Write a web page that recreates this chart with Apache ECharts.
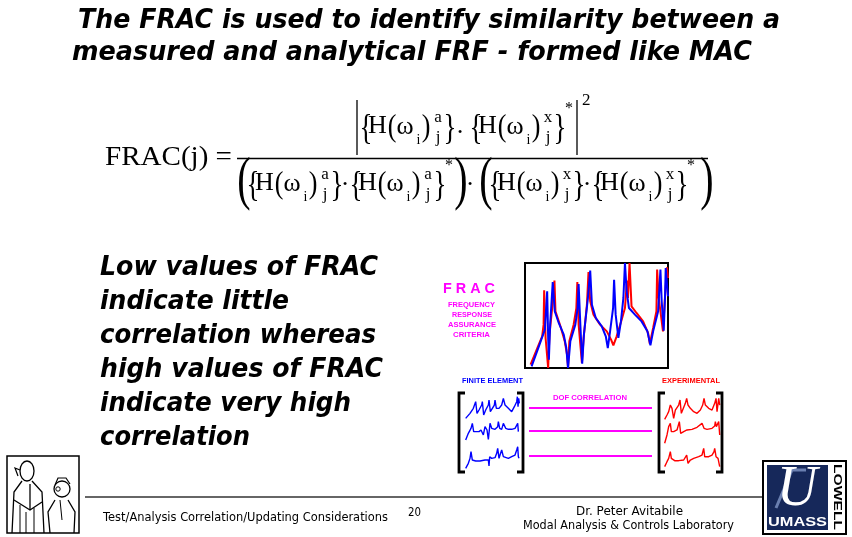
<!DOCTYPE html>
<html><head><meta charset="utf-8">
<script src="https://cdn.jsdelivr.net/npm/echarts@6/dist/echarts.min.js"></script>
<style>html,body{margin:0;padding:0;background:#fff}#c{width:852px;height:537px}</style>
</head><body><div id="c"></div>
<script>
// ---------- data ----------
// main FRF overlay: x = frequency (0-100 of the band), y = log amplitude (0-100)
const measuredFRF = [[3.9,3.2],[8.6,19.0],[12.0,30.2],[13.0,41.3],[13.4,74.0],[14.4,28.6],[16.2,0],[17.1,31.7],[19.0,57.1],[20.6,83.2],[21.3,54.0],[24.8,39.7],[27.8,25.4],[29.4,12.7],[30.1,0],[31.0,25.4],[34.0,41.3],[35.9,57.1],[36.6,81.9],[37.5,41.3],[39.8,4.8],[41.0,28.6],[43.3,60.3],[44.4,91.4],[45.6,63.5],[47.9,50.8],[52.5,41.3],[57.2,34.9],[60.2,27.0],[61.8,21.6],[64.1,30.2],[67.6,46.0],[69.9,57.1],[71.3,83.2],[72.0,66.7],[73.1,100],[74.5,58.7],[78.0,52.4],[82.6,44.4],[86.1,33.3],[87.3,22.9],[89.6,38.1],[91.9,54.0],[92.4,93.7],[93.5,66.7],[96.5,34.9],[97.7,63.5],[99.3,95.9],[100,85.7]];
const analyticalFRF = [[4.6,1.6],[9.7,20.6],[13.9,36.5],[15.5,73.0],[16.2,28.6],[16.7,7.9],[17.6,41.3],[19.4,81.9],[20.8,54.0],[23.6,42.9],[27.1,31.7],[28.9,19.0],[30.1,0],[31.7,25.4],[35.2,41.3],[36.8,57.1],[37.5,80.0],[38.7,41.3],[40.0,4.1],[41.2,31.7],[44.0,66.7],[45.6,92.7],[46.8,60.3],[49.5,47.6],[53.7,39.7],[56.5,30.2],[57.9,19.0],[59.5,34.9],[61.6,57.1],[62.3,84.1],[63.4,50.8],[65.3,28.6],[67.1,44.4],[68.8,66.7],[69.9,100],[71.1,73.0],[72.7,57.1],[76.9,50.8],[81.5,44.4],[85.6,34.9],[87.7,21.6],[89.6,34.9],[93.1,54.0],[94.7,93.7],[95.6,63.5],[97.0,35.6],[97.9,66.7],[98.4,95.2],[99.3,79.4],[100,68.3]];

// small FRF matrices (x 0-170, y 0-70)
const feRow1 = [[2,5],[15,20],[25,35],[32,55],[36,20],[42,30],[50,45],[52,55],[56,15],[62,30],[70,45],[72,60],[76,25],[82,35],[88,45],[90,60],[94,35],[102,35],[110,45],[115,65],[120,45],[130,35],[140,25],[148,40],[155,55],[157,70],[159,40],[161,65],[163,50]];
const feRow2 = [[2,10],[10,30],[18,45],[22,60],[26,35],[32,35],[42,35],[48,40],[55,25],[60,50],[66,40],[70,12],[75,60],[80,45],[90,42],[98,50],[100,65],[104,45],[110,42],[115,60],[118,65],[122,45],[130,42],[140,42],[150,45],[155,50],[158,60],[160,35]];
const feRow3 = [[2,5],[10,20],[15,35],[18,55],[22,30],[32,27],[45,27],[60,30],[70,30],[72,12],[74,40],[80,35],[90,37],[95,50],[98,65],[102,35],[105,45],[110,60],[115,40],[120,35],[130,35],[140,40],[150,45],[155,60],[158,70],[160,40],[162,35]];
const expRow1 = [[2,2],[9,15],[14,25],[19,45],[24,35],[29,5],[34,30],[39,35],[44,45],[48,60],[52,20],[58,35],[64,50],[68,65],[72,45],[79,35],[89,25],[99,20],[109,30],[116,45],[120,65],[124,45],[134,35],[144,30],[152,50],[156,65],[159,25],[164,65],[167,45]];
const expRow2 = [[2,0],[9,25],[14,50],[19,60],[22,35],[29,35],[34,30],[39,40],[46,65],[50,30],[59,35],[69,40],[84,42],[99,48],[114,60],[117,65],[120,45],[129,42],[144,45],[152,52],[154,65],[157,50],[164,65],[167,25]];
const expRow3 = [[2,10],[9,25],[14,35],[19,55],[22,35],[32,28],[44,28],[59,30],[64,35],[68,45],[72,20],[79,30],[89,35],[104,40],[114,45],[119,65],[122,40],[134,40],[144,45],[150,55],[152,65],[156,40],[162,35],[167,10]];

const titleLines = ['The FRAC is used to identify similarity between a', 'measured and analytical FRF - formed like MAC'];
const bodyLines = ['Low values of FRAC', 'indicate little', 'correlation whereas', 'high values of FRAC', 'indicate very high', 'correlation'];
const fracLabels = ['F R A C', 'FREQUENCY', 'RESPONSE', 'ASSURANCE', 'CRITERIA'];

// ---------- helpers ----------
const ctx = document.createElement('canvas').getContext('2d');
function fontStr(o){ return (o.style||'normal')+' '+(o.weight||'normal')+' '+o.size+'px '+o.family; }
function T(text, x, y, o){
  const f = fontStr(o);
  let sx = o.sx || 1;
  if (o.w){ ctx.font = f; sx = o.w / ctx.measureText(text).width; }
  const al = o.align || 'left';
  return { type:'text', x:x, y:y, scaleX:sx, scaleY:o.sy||1, rotation:o.rot||0, z:10, silent:true,
    style:{ text:text, x:0, y:0, font:f, fill:o.fill||'#000', align:al, textAlign:al, verticalAlign:'middle', textVerticalAlign:'middle' } };
}
function L(pts, w, color, z){ return { type:'polyline', z:z||5, silent:true, shape:{points:pts}, style:{stroke:color||'#000', lineWidth:w, fill:null, lineJoin:'miter'} }; }

const SERIF = "'Liberation Serif'";
const COMIC = "'DejaVu Sans'";
const SANS = "'Liberation Sans'";
const g = [];

// title
g.push(T(titleLines[0], 78, 21, {family:COMIC, size:27, weight:'bold', style:'italic', w:702}));
g.push(T(titleLines[1], 72, 53, {family:COMIC, size:27, weight:'bold', style:'italic', w:680}));

// body text
const bodyY = [268, 302, 336, 370, 404, 438];
const bodyW = [278, 189, 276, 283, 251, 150];
bodyLines.forEach((s,i)=> g.push(T(s, 100, bodyY[i], {family:COMIC, size:27, weight:'bold', style:'italic', w:bodyW[i]})));

// formula
g.push(T('FRAC(j) =', 105, 158, {family:SERIF, size:28, w:127}));
function term(b, yc, sup, star){
  const S = (t, x, y, size, al, sy) => g.push(T(t, x, y, {family:SERIF, size:size, align:al||'center', sy:sy||1}));
  S('{', b+3, yc+3, 27, 'center', 1.35);
  S('H', b+5, yc, 26, 'left');
  S('(', b+29, yc+1, 26, 'center', 1.22);
  S('\u03c9', b+42, yc+1, 26);
  S('i', b+55.5, yc+14, 14);
  S(')', b+63, yc+1, 26, 'center', 1.22);
  S(sup, b+75, yc-9, 17);
  S('j', b+75, yc+11, 17);
  S('}', b+87, yc+3, 27, 'center', 1.35);
  if (star) S('*', b+96, yc-18, 16);
}
term(363, 126.5, 'a', false);
term(473, 126.5, 'x', true);
g.push(T('\u00b7', 460, 133, {family:SERIF, size:26, align:'center'}));
g.push(L([[357,100],[357,155]], 1.3));
g.push(L([[577,100],[577,155]], 1.3));
g.push(T('2', 582, 101, {family:SERIF, size:17}));
g.push(L([[237,158.5],[708,158.5]], 1.5));
term(250, 183.5, 'a', false);
term(353, 183.5, 'a', true);
term(492, 183.5, 'x', false);
term(595, 183.5, 'x', true);
[345, 470, 587].forEach(x => g.push(T('\u00b7', x, 185, {family:SERIF, size:26, align:'center'})));
[[244,'('],[461,')'],[486,'('],[707,')']].forEach(p => g.push(T(p[1], p[0], 182, {family:SERIF, size:40, align:'center', sy:1.5})));

// FRAC labels
g.push(T(fracLabels[0], 443, 289, {family:SANS, size:14, weight:'bold', fill:'#ff00ff', w:52}));
const fy = [305, 315, 325, 335], fx = [448, 452, 448, 453], fw = [47, 40, 48, 37];
for (let i=1;i<5;i++) g.push(T(fracLabels[i], fx[i-1], fy[i-1], {family:SANS, size:7.5, weight:'bold', fill:'#ff00ff', w:fw[i-1]}));

// matrix labels
g.push(T('FINITE ELEMENT', 462, 381, {family:SANS, size:8, weight:'bold', fill:'#0000ff', w:61}));
g.push(T('EXPERIMENTAL', 662, 381, {family:SANS, size:8, weight:'bold', fill:'#ff0000', w:58}));
g.push(T('DOF CORRELATION', 553, 398, {family:SANS, size:8, weight:'bold', fill:'#ff00ff', w:74}));

// brackets
function bracket(x, dir){ g.push(L([[x+6*dir,393],[x,393],[x,472],[x+6*dir,472]], 2.8)); }
bracket(459, 1); bracket(523, -1); bracket(659, 1); bracket(722, -1);
// DOF correlation lines
[408, 431, 456].forEach(y => g.push(L([[529,y],[652,y]], 2, '#ff00ff')));

// footer
g.push(L([[85,497],[762,497]], 1.5, '#333'));
g.push(T('Test/Analysis Correlation/Updating Considerations', 103, 518, {family:COMIC, size:12, w:285}));
g.push(T('20', 408, 513, {family:COMIC, size:12, w:13}));
g.push(T('Dr. Peter Avitabile', 576, 512, {family:COMIC, size:12, w:107}));
g.push(T('Modal Analysis & Controls Laboratory', 523, 526, {family:COMIC, size:12, w:211}));

// cartoon (simplified)
g.push({type:'rect', silent:true, z:5, shape:{x:7,y:456,width:72,height:77}, style:{fill:'#fff', stroke:'#000', lineWidth:1.5}});
g.push({type:'ellipse', silent:true, z:6, shape:{cx:27,cy:471,rx:7,ry:10}, style:{fill:'#fff', stroke:'#000', lineWidth:1.3}});
g.push(L([[20,470],[15,468],[18,476]], 1.2, '#000', 6));
g.push(L([[22,481],[14,492],[12,533]], 1.3, '#000', 6));
g.push(L([[32,481],[42,492],[44,533]], 1.3, '#000', 6));
g.push(L([[14,500],[30,510],[42,502]], 1.3, '#000', 6));
g.push(L([[30,510],[30,484]], 1.3, '#000', 6));
g.push(L([[20,505],[20,533]], 1, '#000', 6));
g.push(L([[26,512],[26,533]], 1, '#000', 6));
g.push(L([[34,508],[34,533]], 1, '#000', 6));
g.push({type:'circle', silent:true, z:6, shape:{cx:62,cy:489,r:8}, style:{fill:'#fff', stroke:'#000', lineWidth:1.3}});
g.push({type:'circle', silent:true, z:7, shape:{cx:58,cy:489,r:2.2}, style:{fill:'#fff', stroke:'#000', lineWidth:1}});
g.push(L([[55,485],[58,478],[66,478],[70,484]], 1.2, '#000', 7));
g.push(L([[55,500],[48,512],[50,533]], 1.3, '#000', 6));
g.push(L([[68,500],[75,512],[74,533]], 1.3, '#000', 6));
g.push(L([[60,500],[62,520]], 1, '#000', 6));

// UMASS LOWELL logo (simplified)
g.push({type:'rect', silent:true, z:5, shape:{x:763,y:461,width:83,height:73}, style:{fill:'#fff', stroke:'#000', lineWidth:2}});
g.push({type:'rect', silent:true, z:6, shape:{x:767,y:465,width:61,height:65}, style:{fill:'#16285a'}});
g.push(T('U', 797, 490, {family:SERIF, size:56, style:'italic', fill:'#fff', align:'center'}));
g.push(L([[776,508],[792,470],[806,470]], 3, '#6a7fb0', 7));
g.push(T('UMASS', 768, 523, {family:SANS, size:12, weight:'bold', fill:'#fff', w:59}));
g.push(T('LOWELL', 837, 464, {family:SANS, size:11, weight:'bold', fill:'#000', w:66, rot:-Math.PI/2}));

// ---------- chart ----------
const grids = [
  {left:525, top:263, width:143, height:105, show:true, borderColor:'#000', borderWidth:2, backgroundColor:'#fff'},
  {left:465, top:396.7, width:56.7, height:23.3},
  {left:465, top:420, width:56.7, height:23.3},
  {left:465, top:446.7, width:56.7, height:23.3},
  {left:664, top:396.7, width:56.7, height:23.3},
  {left:664, top:420, width:56.7, height:23.3},
  {left:664, top:446.7, width:56.7, height:23.3}
];
const xAxes = grids.map((gr,i)=>({type:'value', gridIndex:i, min:0, max:i===0?100:170, show:false}));
const yAxes = grids.map((gr,i)=>({type:'value', gridIndex:i, min:0, max:i===0?100:70, show:false}));
function line(i, data, color, w){
  return {type:'line', xAxisIndex:i, yAxisIndex:i, data:data, showSymbol:false, symbol:'none', silent:true,
    lineStyle:{color:color, width:w}, clip:true, animation:false};
}
const series = [
  line(0, measuredFRF, '#ff0000', 2),
  line(0, analyticalFRF, '#0000ff', 2),
  line(1, feRow1, '#0000ff', 1.4), line(2, feRow2, '#0000ff', 1.4), line(3, feRow3, '#0000ff', 1.4),
  line(4, expRow1, '#ff0000', 1.4), line(5, expRow2, '#ff0000', 1.4), line(6, expRow3, '#ff0000', 1.4)
];
const chart = echarts.init(document.getElementById('c'));
chart.setOption({animation:false, backgroundColor:'#fff', grid:grids, xAxis:xAxes, yAxis:yAxes, series:series, graphic:{elements:g}});
</script></body></html>
